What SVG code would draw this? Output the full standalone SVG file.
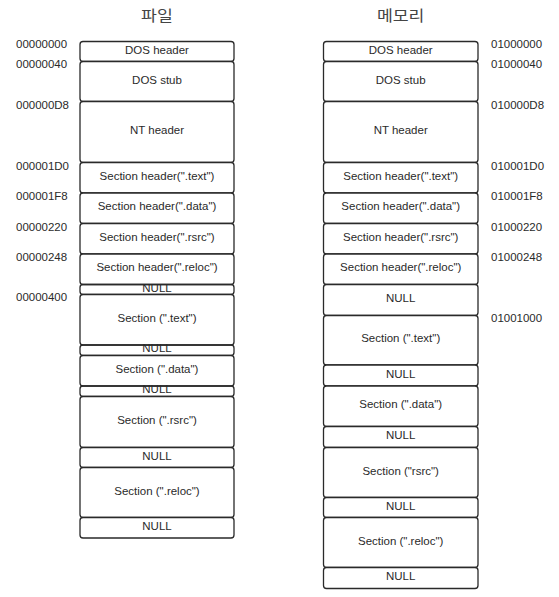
<svg xmlns="http://www.w3.org/2000/svg" width="559" height="597" viewBox="0 0 559 597">
<style>
  .box { fill: #ffffff; stroke: #2a2a2a; stroke-width: 1.3; }
  .t { font-family: "Liberation Sans", Arial, sans-serif; font-size: 10px; fill: #2a2a2a; text-anchor: middle; }
  .a { font-family: "Liberation Sans", Arial, sans-serif; font-size: 10px; fill: #2a2a2a; }
  .title { font-family: "Noto Sans CJK KR", "Noto Sans", sans-serif; font-size: 15px; fill: #444444; text-anchor: middle; }
</style>
<rect width="559" height="597" fill="#ffffff"/>
<g transform="scale(1.15 1)">
  <text class="title" x="136.52" y="21.5">파일</text>
  <text class="title" x="348.43" y="21.5">메모리</text>
</g>

<g id="file-column">
  <g id="f-dos-header"><rect class="box" x="80" y="41.5" width="154" height="20" rx="3"/><g transform="scale(1.15 1)"><text class="t" x="136.52" y="53.8">DOS header</text></g></g>
  <g id="f-dos-stub"><rect class="box" x="80" y="61.5" width="154" height="40" rx="3"/><g transform="scale(1.15 1)"><text class="t" x="136.52" y="83.8">DOS stub</text></g></g>
  <g id="f-nt-header"><rect class="box" x="80" y="101.5" width="154" height="61" rx="3"/><g transform="scale(1.15 1)"><text class="t" x="136.52" y="134.3">NT header</text></g></g>
  <g id="f-sh-text"><rect class="box" x="80" y="162.5" width="154" height="30.5" rx="3"/><g transform="scale(1.15 1)"><text class="t" x="136.52" y="180">Section header(".text")</text></g></g>
  <g id="f-sh-data"><rect class="box" x="80" y="193" width="154" height="30.5" rx="3"/><g transform="scale(1.15 1)"><text class="t" x="136.52" y="210.5">Section header(".data")</text></g></g>
  <g id="f-sh-rsrc"><rect class="box" x="80" y="223.5" width="154" height="30.5" rx="3"/><g transform="scale(1.15 1)"><text class="t" x="136.52" y="241">Section header(".rsrc")</text></g></g>
  <g id="f-sh-reloc"><rect class="box" x="80" y="254" width="154" height="30.5" rx="3"/><g transform="scale(1.15 1)"><text class="t" x="136.52" y="271.5">Section header(".reloc")</text></g></g>
  <g id="f-null-1"><g transform="scale(1.15 1)"><text class="t" x="136.52" y="291.8">NULL</text></g><rect class="box" x="80" y="284.5" width="154" height="10" rx="3" style="fill:none"/></g>
  <g id="f-sec-text"><rect class="box" x="80" y="294.5" width="154" height="50.5" rx="3"/><g transform="scale(1.15 1)"><text class="t" x="136.52" y="322">Section (".text")</text></g></g>
  <g id="f-null-2"><g transform="scale(1.15 1)"><text class="t" x="136.52" y="352.5">NULL</text></g><rect class="box" x="80" y="345" width="154" height="10.5" rx="3" style="fill:none"/></g>
  <g id="f-sec-data"><rect class="box" x="80" y="355.5" width="154" height="30.5" rx="3"/><g transform="scale(1.15 1)"><text class="t" x="136.52" y="373">Section (".data")</text></g></g>
  <g id="f-null-3"><g transform="scale(1.15 1)"><text class="t" x="136.52" y="393.5">NULL</text></g><rect class="box" x="80" y="386" width="154" height="10.5" rx="3" style="fill:none"/></g>
  <g id="f-sec-rsrc"><rect class="box" x="80" y="396.5" width="154" height="51" rx="3"/><g transform="scale(1.15 1)"><text class="t" x="136.52" y="424">Section (".rsrc")</text></g></g>
  <g id="f-null-4"><rect class="box" x="80" y="447.5" width="154" height="20" rx="3"/><g transform="scale(1.15 1)"><text class="t" x="136.52" y="459.8">NULL</text></g></g>
  <g id="f-sec-reloc"><rect class="box" x="80" y="467.5" width="154" height="50" rx="3"/><g transform="scale(1.15 1)"><text class="t" x="136.52" y="494.8">Section (".reloc")</text></g></g>
  <g id="f-null-5"><rect class="box" x="80" y="517.5" width="154" height="20.5" rx="3"/><g transform="scale(1.15 1)"><text class="t" x="136.52" y="530">NULL</text></g></g>
</g>

<g id="file-offsets" transform="scale(1.15 1)">
  <text class="a" x="13.91" y="47.8">00000000</text>
  <text class="a" x="13.91" y="67.8">00000040</text>
  <text class="a" x="13.91" y="109.5">000000D8</text>
  <text class="a" x="13.91" y="170.2">000001D0</text>
  <text class="a" x="13.91" y="200.2">000001F8</text>
  <text class="a" x="13.91" y="230.8">00000220</text>
  <text class="a" x="13.91" y="261.2">00000248</text>
  <text class="a" x="13.91" y="301.2">00000400</text>
</g>

<g id="memory-column">
  <g id="m-dos-header"><rect class="box" x="323.5" y="41.5" width="154.5" height="20" rx="3"/><g transform="scale(1.15 1)"><text class="t" x="348.43" y="53.8">DOS header</text></g></g>
  <g id="m-dos-stub"><rect class="box" x="323.5" y="61.5" width="154.5" height="40" rx="3"/><g transform="scale(1.15 1)"><text class="t" x="348.43" y="83.8">DOS stub</text></g></g>
  <g id="m-nt-header"><rect class="box" x="323.5" y="101.5" width="154.5" height="61" rx="3"/><g transform="scale(1.15 1)"><text class="t" x="348.43" y="134.3">NT header</text></g></g>
  <g id="m-sh-text"><rect class="box" x="323.5" y="162.5" width="154.5" height="30.5" rx="3"/><g transform="scale(1.15 1)"><text class="t" x="348.43" y="180">Section header(".text")</text></g></g>
  <g id="m-sh-data"><rect class="box" x="323.5" y="193" width="154.5" height="30.5" rx="3"/><g transform="scale(1.15 1)"><text class="t" x="348.43" y="210.5">Section header(".data")</text></g></g>
  <g id="m-sh-rsrc"><rect class="box" x="323.5" y="223.5" width="154.5" height="30.5" rx="3"/><g transform="scale(1.15 1)"><text class="t" x="348.43" y="241">Section header(".rsrc")</text></g></g>
  <g id="m-sh-reloc"><rect class="box" x="323.5" y="254" width="154.5" height="30.5" rx="3"/><g transform="scale(1.15 1)"><text class="t" x="348.43" y="271.5">Section header(".reloc")</text></g></g>
  <g id="m-null-1"><rect class="box" x="323.5" y="284.5" width="154.5" height="31" rx="3"/><g transform="scale(1.15 1)"><text class="t" x="348.43" y="302.3">NULL</text></g></g>
  <g id="m-sec-text"><rect class="box" x="323.5" y="315.5" width="154.5" height="49.5" rx="3"/><g transform="scale(1.15 1)"><text class="t" x="348.43" y="342.5">Section (".text")</text></g></g>
  <g id="m-null-2"><rect class="box" x="323.5" y="365" width="154.5" height="21" rx="3"/><g transform="scale(1.15 1)"><text class="t" x="348.43" y="377.8">NULL</text></g></g>
  <g id="m-sec-data"><rect class="box" x="323.5" y="386" width="154.5" height="40.5" rx="3"/><g transform="scale(1.15 1)"><text class="t" x="348.43" y="408.5">Section (".data")</text></g></g>
  <g id="m-null-3"><rect class="box" x="323.5" y="426.5" width="154.5" height="21" rx="3"/><g transform="scale(1.15 1)"><text class="t" x="348.43" y="439.3">NULL</text></g></g>
  <g id="m-sec-rsrc"><rect class="box" x="323.5" y="447.5" width="154.5" height="50" rx="3"/><g transform="scale(1.15 1)"><text class="t" x="348.43" y="474.8">Section ("rsrc")</text></g></g>
  <g id="m-null-4"><rect class="box" x="323.5" y="497.5" width="154.5" height="20" rx="3"/><g transform="scale(1.15 1)"><text class="t" x="348.43" y="509.8">NULL</text></g></g>
  <g id="m-sec-reloc"><rect class="box" x="323.5" y="517.5" width="154.5" height="50" rx="3"/><g transform="scale(1.15 1)"><text class="t" x="348.43" y="544.8">Section (".reloc")</text></g></g>
  <g id="m-null-5"><rect class="box" x="323.5" y="567.5" width="154.5" height="21" rx="3"/><g transform="scale(1.15 1)"><text class="t" x="348.43" y="580.3">NULL</text></g></g>
</g>

<g id="memory-addresses" transform="scale(1.15 1)">
  <text class="a" x="426.96" y="47.8">01000000</text>
  <text class="a" x="426.96" y="67.8">01000040</text>
  <text class="a" x="426.96" y="109.5">010000D8</text>
  <text class="a" x="426.96" y="170.2">010001D0</text>
  <text class="a" x="426.96" y="200.2">010001F8</text>
  <text class="a" x="426.96" y="230.8">01000220</text>
  <text class="a" x="426.96" y="261.2">01000248</text>
  <text class="a" x="426.96" y="321.8">01001000</text>
</g>

<g id="connectors"></g>
</svg>
